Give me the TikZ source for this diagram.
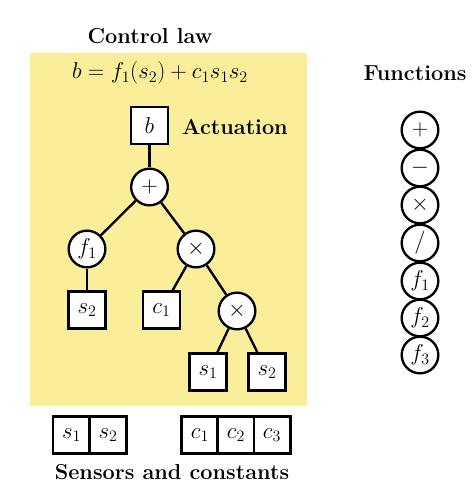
\RequirePackage{fix-cm}
\documentclass[tikz,border=0pt]{standalone}
\usetikzlibrary{shapes}
\definecolor{lawyellow}{RGB}{250,238,155}
\begin{document}
\begin{tikzpicture}[x=0.03cm,y=-0.03cm,
  every node/.style={font=\fontsize{19.5}{23}\selectfont},
  op/.style={draw,circle,fill=white,line width=2pt,minimum size=1.1cm,inner sep=0pt},
  leaf/.style={draw,fill=white,line width=2pt,minimum size=1.1cm,inner sep=0pt},
  title/.style={font=\fontsize{18.5}{22}\selectfont\bfseries}]
\useasboundingbox (0,0) rectangle (474,488);
\fill[lawyellow] (30,53) rectangle (307,406);
% titles
\node[title] (law) at (150,36) {Control law};
\node (eq) at (160,73) {$b=f_1(s_2)+c_1s_1s_2$};
\node[title] (fun) at (415,73) {Functions};
\node[title] (act) at (235,127) {Actuation};
\node[title] (sens) at (172,472) {Sensors and constants};
% expression tree
\node[leaf] (b) at (149.5,125.5) {$b$};
\node[op] (plus) at (149.5,187) {$+$};
\node[op] (f1) at (87,249) {$f_1$};
\node[op] (times) at (196,249) {$\times$};
\node[leaf] (s2a) at (87,310) {$s_2$};
\node[leaf] (c1a) at (161.5,310) {$c_1$};
\node[op] (timesb) at (237,311) {$\times$};
\node[leaf] (s1b) at (208,372) {$s_1$};
\node[leaf] (s2b) at (267,372) {$s_2$};
\draw[line width=2pt] (b) -- (plus);
\draw[line width=2pt] (plus) -- (f1);
\draw[line width=2pt] (plus) -- (times);
\draw[line width=2pt] (f1) -- (s2a);
\draw[line width=2pt] (times) -- (c1a);
\draw[line width=2pt] (times) -- (timesb);
\draw[line width=2pt] (timesb) -- (s1b);
\draw[line width=2pt] (timesb) -- (s2b);
% sensors and constants
\node[leaf] (s1) at (71.5,435) {$s_1$};
\node[leaf] (s2) at (108,435) {$s_2$};
\node[leaf] (c1) at (200,435) {$c_1$};
\node[leaf] (c2) at (236,435) {$c_2$};
\node[leaf] (c3) at (272,435) {$c_3$};
% function set
\node[op] (fplus) at (420,130) {$+$};
\node[op] (fminus) at (420,168) {$-$};
\node[op] (ftimes) at (420,205) {$\times$};
\node[op] (fdiv) at (420,243) {$/$};
\node[op] (ff1) at (420,281) {$f_1$};
\node[op] (ff2) at (420,318) {$f_2$};
\node[op] (ff3) at (420,355) {$f_3$};
\end{tikzpicture}
\end{document}
